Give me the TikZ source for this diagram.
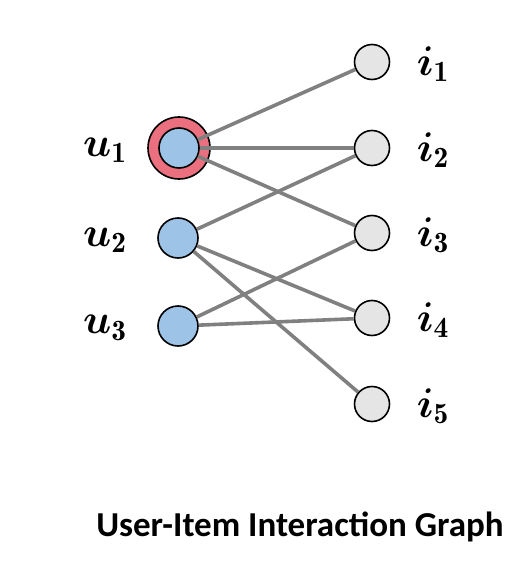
\documentclass[tikz,border=0pt]{standalone}
\usepackage{amsmath,amssymb,bm}
\usepackage{fontspec}
\setsansfont{Carlito}
\usepackage{xcolor}
\usepackage{tikz}
\definecolor{ublue}{RGB}{157,195,230}
\definecolor{ired}{RGB}{234,112,127}
\definecolor{igray}{RGB}{229,229,229}
\definecolor{egray}{RGB}{128,128,128}
\tikzset{
  usr/.style={circle,draw=black,line width=0.8pt,fill=ublue,minimum size=20pt,inner sep=0pt},
  itm/.style={circle,draw=black,line width=0.8pt,fill=igray,minimum size=17.5pt,inner sep=0pt},
  ring/.style={circle,draw=black,line width=0.8pt,fill=ired,minimum size=31pt,inner sep=0pt},
  edg/.style={egray,line width=1.8pt},
  lbl/.style={font=\fontsize{21}{25}\selectfont,inner sep=0pt}
}
\newcommand{\ulab}[1]{$\bm{u}_{\mathbf{#1}}$}
\newcommand{\ilab}[1]{$\bm{i}_{\mathbf{#1}}$}

\begin{document}
\begin{tikzpicture}[x=0.5pt,y=-0.5pt]
\useasboundingbox (0,0) rectangle (527,567);
\node[ring] (r1) at (179,148) {};
\node[usr] (u1) at (179,148) {};
\node[usr] (u2) at (178,238) {};
\node[usr] (u3) at (178,326) {};
\node[itm] (i1) at (372,62) {};
\node[itm] (i2) at (372,148) {};
\node[itm] (i3) at (372,233) {};
\node[itm] (i4) at (372,318) {};
\node[itm] (i5) at (372,404) {};
% interactions
\draw[edg] (u1) -- (i1); \draw[edg] (u1) -- (i2); \draw[edg] (u1) -- (i3);
\draw[edg] (u2) -- (i2); \draw[edg] (u2) -- (i4); \draw[edg] (u2) -- (i5);
\draw[edg] (u3) -- (i3); \draw[edg] (u3) -- (i4);
\node[lbl] (l1) at (105,150) {\ulab{1}};
\node[lbl] (l2) at (105,240) {\ulab{2}};
\node[lbl] (l3) at (105,328) {\ulab{3}};
\node[lbl] (m1) at (433,64) {\ilab{1}};
\node[lbl] (m2) at (433,150) {\ilab{2}};
\node[lbl] (m3) at (433,235) {\ilab{3}};
\node[lbl] (m4) at (433,320) {\ilab{4}};
\node[lbl] (m5) at (433,406) {\ilab{5}};
\node[font=\sffamily\bfseries\fontsize{17.5}{21}\selectfont] (t) at (300,527) {User-Item Interaction Graph};
\end{tikzpicture}
\end{document}
